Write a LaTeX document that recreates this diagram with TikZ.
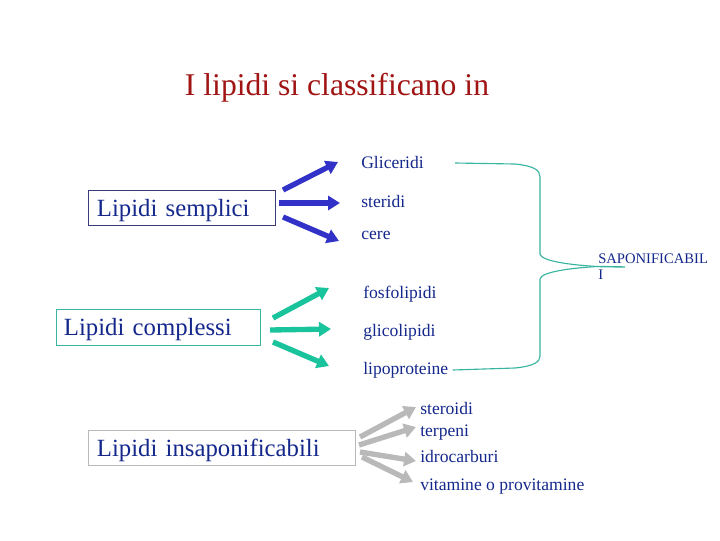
\documentclass[tikz,border=0pt]{standalone}
\usepackage{fontspec}
\setmainfont{Liberation Serif}
\usepackage{tikz}
\usepackage{xcolor}
\usetikzlibrary{arrows.meta}

\definecolor{titlered}{RGB}{160,20,20}
\definecolor{textnavy}{RGB}{20,40,140}
\definecolor{arrblue}{RGB}{50,50,200}
\definecolor{arrteal}{RGB}{25,195,155}
\definecolor{bracketteal}{RGB}{55,180,160}
\definecolor{arrgray}{RGB}{185,185,185}
\definecolor{boxnavy}{RGB}{60,60,120}

\tikzset{
  classbox/.style={draw, align=left, inner ysep=0pt, text depth=0pt, text=textnavy,
    font=\fontsize{17.6}{20}\selectfont},
  item/.style={anchor=west, inner sep=0pt, text=textnavy,
    font=\fontsize{12.5}{14}\selectfont},
  fat/.style={line width=3.8pt, -{Triangle[length=8.5pt,width=10pt]}},
}

\begin{document}
\begin{tikzpicture}[x=0.025cm, y=-0.025cm]
\useasboundingbox (0,0) rectangle (720,540);

% titolo
\node[text=titlered, font=\fontsize{22.5}{27}\selectfont] (title) at (337,88) {I lipidi si classificano in};

% riquadri
\node[classbox, draw=boxnavy, text width=4.225cm, inner xsep=0.225cm, minimum height=0.875cm] (semplici) at (181.5,207.5) {Lipidi semplici};
\node[classbox, draw=bracketteal, text width=4.7cm, inner xsep=0.2cm, minimum height=0.9cm] (complessi) at (158,327) {Lipidi complessi};
\node[classbox, draw=arrgray, text width=6.225cm, inner xsep=0.225cm, minimum height=0.875cm] (insapon) at (221.5,447.5) {Lipidi insaponificabili};

% voci
\node[item] (glic) at (361,162) {Gliceridi};
\node[item] (sterid) at (361,201) {steridi};
\node[item] (cere) at (361,235) {cere};
\node[item] (fosfo) at (363,294) {fosfolipidi};
\node[item] (glico) at (363,332) {glicolipidi};
\node[item] (lipo) at (363,370) {lipoproteine};
\node[item] (steroidi) at (420,408) {steroidi};
\node[item] (terpeni) at (420,433) {terpeni};
\node[item] (idro) at (420,456) {idrocarburi};
\node[item] (vitam) at (420,487) {vitamine o provitamine};
\node[anchor=north west, align=left, inner sep=0pt, text=textnavy,
  font=\fontsize{10.4}{10.8}\selectfont] (sapon) at (598,254) {SAPONIFICABIL\\I};

% punti delle frecce
\coordinate (s1) at (283,190); \coordinate (gl) at (338,162);
\coordinate (s2) at (279,203); \coordinate (st) at (340,203);
\coordinate (s3) at (283,217); \coordinate (ce) at (339,241);
\coordinate (c1) at (273,318); \coordinate (fo) at (329,288);
\coordinate (c2) at (270,330); \coordinate (gc) at (331,329);
\coordinate (c3) at (273,342); \coordinate (li) at (329,366);
\coordinate (i1) at (360,437); \coordinate (so) at (416,407);
\coordinate (i2) at (359,445); \coordinate (te) at (416,427);
\coordinate (i3) at (360,452); \coordinate (id) at (416,461);
\coordinate (i4) at (362,457); \coordinate (vi) at (413,482);

\draw[fat, arrblue] (s1) -- (gl);
\draw[fat, arrblue] (s2) -- (st);
\draw[fat, arrblue] (s3) -- (ce);
\draw[fat, arrteal] (c1) -- (fo);
\draw[fat, arrteal] (c2) -- (gc);
\draw[fat, arrteal] (c3) -- (li);
\draw[fat, arrgray] (i1) -- (so);
\draw[fat, arrgray] (i2) -- (te);
\draw[fat, arrgray] (i3) -- (id);
\draw[fat, arrgray] (i4) -- (vi);

% parentesi
\coordinate (btop) at (455,163);
\coordinate (bbot) at (lipo.east);
\coordinate (btip) at (598,266.5);
\draw[bracketteal, line width=0.8pt]
  (btop) -- (515,164) .. controls (534,166) and (540,170) .. (540,177)
  -- (540,254) .. controls (541,261) and (570,265) .. (btip);
\draw[bracketteal, line width=0.8pt]
  ([xshift=3pt]bbot) -- (515,368) .. controls (534,366) and (540,362) .. (540,356)
  -- (540,279) .. controls (541,272) and (570,268) .. (btip);
\draw[bracketteal, line width=1pt] (btip) -- (625,267);
\end{tikzpicture}
\end{document}
